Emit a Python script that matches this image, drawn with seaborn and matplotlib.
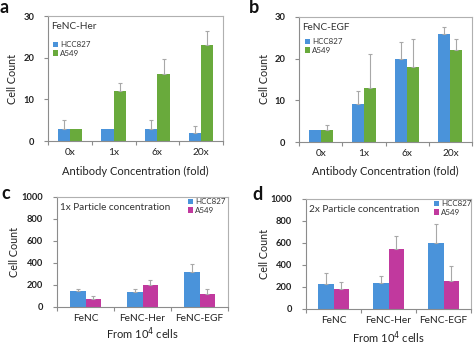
import matplotlib
matplotlib.use("Agg")
import matplotlib.pyplot as plt
from matplotlib.patches import Patch
from matplotlib.font_manager import FontProperties
import seaborn as sns
import pandas as pd
import numpy as np

sns.set_theme(style="white")
FAM = ['Lato', 'DejaVu Sans']
plt.rcParams['font.family'] = FAM

# ---- data ----
conc = ["0x", "1x", "6x", "20x"]
particles = ["FeNC", "FeNC-Her", "FeNC-EGF"]
series = ["HCC827", "A549"]

a_hcc = [3, 3, 3, 2]
a_hcc_err = [2.1, 0, 2.1, 1.5]
a_a549 = [3, 12, 16, 23]
a_a549_err = [0, 2, 3.6, 3.5]

b_hcc = [3, 9, 20, 26]
b_hcc_err = [0, 3.2, 4.1, 1.6]
b_a549 = [3, 13, 18, 22]
b_a549_err = [1, 8.2, 6.6, 2.6]

c_hcc = [145, 135, 320]
c_hcc_err = [18, 32, 72]
c_a549 = [75, 198, 122]
c_a549_err = [25, 50, 45]

d_hcc = [225, 235, 604]
d_hcc_err = [105, 68, 165]
d_a549 = [178, 550, 258]
d_a549_err = [70, 112, 132]

blue = "#4a93da"
green = "#69aa3c"
magenta = "#c1399e"
gray = "#8c8c8c"
W, H = 474.0, 346.0

fig = plt.figure(figsize=(4.74, 3.46), dpi=100)
renderer = fig.canvas.get_renderer()


def fit(s, target_px, weight="normal", ismath=False):
    prop = FontProperties(family=FAM, size=10, weight=weight)
    w, h, d = renderer.get_text_width_height_descent(s, prop, ismath=ismath)
    return 10.0 * target_px / w


FS_TICK = fit("FeNC-Her", 46)
FS_YTICK = fit("1000", 22, weight="bold")
FS_TITLE = fit("1x Particle concentration", 111)
FS_XLAB = fit("Antibody Concentration (fold)", 147)
FS_YLAB = fit("Cell Count", 50)
FS_LEG = fit("HCC827", 30)


def fx(x):
    return x / W


def fy(y):
    return 1 - y / H


def panel(rect, cats, v1, e1, v2, e2, colors, ylim, yticks, title,
          leg_xy, xlabel, xlabel_y, ylabel_x, letter, letter_xy):
    ax = fig.add_axes(rect)
    df = pd.DataFrame({
        "cat": cats * 2,
        "val": list(v1) + list(v2),
        "series": [series[0]] * len(cats) + [series[1]] * len(cats),
    })
    sns.barplot(data=df, x="cat", y="val", hue="series", order=cats,
                hue_order=series, palette=colors, width=0.56, ax=ax,
                errorbar=None, legend=False, saturation=1,
                edgecolor="none", linewidth=0)
    for cont, errs in zip(ax.containers, [e1, e2]):
        for bar, err in zip(cont, errs):
            if err <= 0:
                continue
            xc = bar.get_x() + bar.get_width() / 2
            h = bar.get_height()
            ax.errorbar([xc], [h], yerr=[[0], [err]], fmt="none",
                        ecolor="#a8a8a8", elinewidth=0.8, capsize=1.5,
                        capthick=0.8, zorder=1)
    ax.set_xlim(-0.5, len(cats) - 0.5)
    ax.set_ylim(*ylim)
    ax.set_yticks(yticks)
    ax.set_yticklabels([str(t) for t in yticks], fontsize=FS_YTICK,
                       fontweight="bold", color="#222222")
    ax.set_xticks(range(len(cats)))
    ax.set_xticklabels(cats, fontsize=FS_TICK, color="#222222")
    ax.set_xticks(np.arange(-0.5, len(cats), 1.0), minor=True)
    ax.tick_params(axis="x", which="major", length=0, pad=5)
    ax.tick_params(axis="x", which="minor", length=3, width=0.8,
                   color=gray, direction="out", bottom=True)
    ax.tick_params(axis="y", length=3, width=0.8, color=gray,
                   direction="out", left=True, pad=7)
    for s in ax.spines.values():
        s.set_color("#b0b0b0")
        s.set_linewidth(0.8)
    ax.spines["left"].set_color(gray)
    ax.spines["bottom"].set_color(gray)
    ax.set_ylabel("")
    ax.set_xlabel("")
    x0, y0, w, h = rect
    fig.text(fx(ylabel_x), y0 + h / 2, "Cell Count", rotation=90,
             ha="center", va="center", fontsize=FS_YLAB, color="#222222")
    fig.text(x0 + w / 2, fy(xlabel_y), xlabel, ha="center", va="center",
             fontsize=FS_XLAB, color="#222222")
    ax.text(0.02, 0.95, title, transform=ax.transAxes, ha="left", va="top",
            fontsize=FS_TITLE, color="#333333")
    handles = [Patch(facecolor=c, edgecolor="none") for c in colors]
    fig.legend(handles, series, loc="upper left",
               bbox_to_anchor=(fx(leg_xy[0]), fy(leg_xy[1])), frameon=False,
               fontsize=FS_LEG, handlelength=0.6, handleheight=0.7,
               handletextpad=0.3, labelspacing=0.2, borderpad=0.0,
               borderaxespad=0.0, labelcolor="#333333")
    fig.text(fx(letter_xy[0]), fy(letter_xy[1]), letter, fontsize=13,
             fontweight="bold", ha="left", va="baseline", color="#111111")
    return ax


def rect(x0, y0, x1, y1):
    return [x0 / W, 1 - y1 / H, (x1 - x0) / W, (y1 - y0) / H]


panel(rect(48, 16, 223, 141), conc, a_hcc, a_hcc_err, a_a549, a_a549_err,
      [blue, green], (0, 30), [0, 10, 20, 30], "FeNC-Her", (53, 41),
      "Antibody Concentration (fold)", 171, 13, "a", (0, 13))
panel(rect(299, 17, 472, 142), conc, b_hcc, b_hcc_err, b_a549, b_a549_err,
      [blue, green], (0, 30), [0, 10, 20, 30], "FeNC-EGF", (305, 38),
      "Antibody Concentration (fold)", 171, 264, "b", (249, 13))
panel(rect(57, 197, 228, 307), particles, c_hcc, c_hcc_err, c_a549, c_a549_err,
      [blue, magenta], (0, 1000), [0, 200, 400, 600, 800, 1000],
      "1x Particle concentration", (188, 198), "From 10$^4$ cells", 334, 15,
      "c", (1, 199))
panel(rect(306, 199, 471, 309), particles, d_hcc, d_hcc_err, d_a549, d_a549_err,
      [blue, magenta], (0, 1000), [0, 200, 400, 600, 800, 1000],
      "2x Particle concentration", (434, 200), "From 10$^4$ cells", 338, 264,
      "d", (252, 200))

fig.savefig("out.png", dpi=100)
